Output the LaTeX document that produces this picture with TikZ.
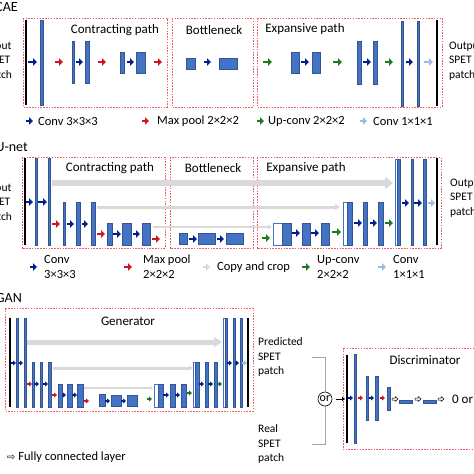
\documentclass[tikz,border=0pt]{standalone}
\usepackage{fontspec}
\setmainfont{Carlito}
\newfontfamily\symfont{DejaVu Sans}
\usetikzlibrary{arrows.meta}
\usetikzlibrary{positioning}
\definecolor{layblue}{RGB}{68,114,196}
\definecolor{convblue}{RGB}{0,30,140}
\definecolor{poolred}{RGB}{205,20,35}
\definecolor{upgreen}{RGB}{30,120,30}
\definecolor{finblue}{RGB}{155,187,227}
\definecolor{copygray}{RGB}{217,217,217}
\definecolor{boxred}{RGB}{240,90,100}
\tikzset{lay/.style = {fill=layblue, draw=layblue!75!black, line width=0.3pt}}
\tikzset{hollow/.style = {fill=white, draw=layblue, line width=0.6pt}}
\tikzset{patchline/.style = {draw=black, line width=1.6pt}}
\tikzset{part/.style = {draw=boxred, dash pattern=on 1.5pt off 1.3pt, line width=0.9pt}}
\tikzset{bigtip/.style = {line width=2.6pt, -{Triangle[length=4pt,width=7.5pt]}}}
\tikzset{smalltip/.style = {line width=1.6pt, -{Triangle[length=3pt,width=5pt]}}}
\tikzset{conv/.style = {draw=convblue}, pool/.style = {draw=poolred}}
\tikzset{upc/.style = {draw=upgreen}, fin/.style = {draw=finblue}}
\tikzset{copy/.style = {draw=copygray, -{Triangle[length=8pt,width=12pt]}}}
\tikzset{fcarrow/.style = {draw=black, fill=white, line width=0.5pt}}
\tikzset{title/.style = {font=\fontsize{14}{16}\selectfont, inner sep=0pt}}
\tikzset{head/.style = {font=\fontsize{13}{15}\selectfont, inner sep=0pt}}
\tikzset{lbl/.style = {font=\fontsize{11.5}{14.5}\selectfont, align=left, inner sep=0pt}}
\tikzset{leg/.style = {font=\fontsize{12.5}{15}\selectfont, align=left, anchor=west, inner sep=0pt}}
\begin{document}
\begin{tikzpicture}[x=1pt, y=-1pt]
  \useasboundingbox (0,0) rectangle (474,474);
  % 3D CAE
  \node [title, anchor=east] (caetitle) at (18,7) {3D CAE};
  \draw [part] (23,18) rectangle (167,107);
  \draw [part] (172,18) rectangle (253,107);
  \draw [part] (257,18) rectangle (442,107);
  \node [head] (caecon) at (115,30) {Contracting path};
  \node [head] (caebot) at (214,30) {Bottleneck};
  \node [head] (caeexp) at (305,29) {Expansive path};
  \node [lbl, align=center] (caein) at (-1,61) {Input\\SPET\\patch};
  \node [lbl, anchor=west] (caeout) at (449,61) {Output\\SPET\\patch};
  \draw [patchline] (26,20) -- (26,105);
  \draw [patchline] (437,20) -- (437,106);
  \draw [lay] (40,20) rectangle (43,105);
  \draw [lay] (72,41) rectangle (74,83);
  \draw [lay] (85,41) rectangle (89,83);
  \draw [lay] (120,52) rectangle (124,73);
  \draw [lay] (136,52) rectangle (145,73);
  \draw [lay] (186,58) rectangle (195,69);
  \draw [lay] (219,58) rectangle (237,69);
  \draw [lay] (291,52) rectangle (299,73);
  \draw [lay] (312,52) rectangle (320,73);
  \draw [lay] (357,41) rectangle (361,84);
  \draw [lay] (373,41) rectangle (377,84);
  \draw [lay] (401,21) rectangle (403,106);
  \draw [lay] (417,21) rectangle (419,106);
  \foreach \a/\b in {28/37, 76/83, 127/134, 204/211, 301/309, 363/371, 406/413}
    \draw [conv, bigtip] (\a,62) -- (\b,62);
  \foreach \a/\b in {55/63, 98/106, 154/162}
    \draw [pool, bigtip] (\a,62) -- (\b,62);
  \foreach \a/\b in {263/272, 333/342, 385/393}
    \draw [upc, bigtip] (\a,62) -- (\b,62);
  \draw [fin, bigtip] (424,62) -- (433,62);
  % CAE legend
  \draw [conv, bigtip] (26,121) -- (33,121);
  \node [leg] (caeconv) at (38,121) {Conv 3×3×3};
  \draw [pool, bigtip] (142,121) -- (149,121);
  \node [leg] (caepool) at (157,121) {Max pool 2×2×2};
  \draw [upc, bigtip] (257,121) -- (264,121);
  \node [leg] (caeup) at (268,121) {Up-conv 2×2×2};
  \draw [fin, bigtip] (360,121) -- (367,121);
  \node [leg] (caefin) at (373,121) {Conv 1×1×1};

  % 3D U-net
  \node [title, anchor=east] (unettitle) at (28,147) {3D U-net};
  \draw [part] (22,157) rectangle (165,248);
  \draw [part] (170,157) rectangle (253,248);
  \draw [part] (257,157) rectangle (441,248);
  \draw [copy, line width=6pt] (52,183) -- (393,183);
  \draw [copy, line width=3pt, -{Triangle[length=5pt,width=6pt]}] (97,207) -- (340,207);
  \draw [copy, line width=2pt, -{Triangle[length=4pt,width=4pt]}] (153,227) -- (272,227);
  \node [head] (unetcon) at (110,168) {Contracting path};
  \node [head] (unetbot) at (213,168) {Bottleneck};
  \node [head] (unetexp) at (306,168) {Expansive path};
  \node [lbl, align=center] (unetin) at (-1,203) {Input\\SPET\\patch};
  \node [lbl, anchor=west] (unetout) at (450,198) {Output\\SPET\\patch};
  \draw [patchline] (25,158) -- (25,245);
  \draw [patchline] (437,158) -- (437,245);
  \draw [lay] (35,158) rectangle (37,245);
  \draw [lay] (48,158) rectangle (50,245);
  \draw [lay] (63,202) rectangle (65,245);
  \draw [lay] (76,202) rectangle (80,245);
  \draw [lay] (91,202) rectangle (95,245);
  \draw [lay] (107,223) rectangle (112,245);
  \draw [lay] (122,223) rectangle (131,245);
  \draw [lay] (142,223) rectangle (150,245);
  \draw [lay] (179,233) rectangle (187,244);
  \draw [lay] (198,233) rectangle (215,244);
  \draw [lay] (226,233) rectangle (243,244);
  \draw [hollow] (273,223) rectangle (282,245);
  \draw [lay] (282,223) rectangle (291,245);
  \draw [lay] (302,223) rectangle (310,245);
  \draw [lay] (321,223) rectangle (329,245);
  \draw [hollow] (343,202) rectangle (347,245);
  \draw [lay] (347,202) rectangle (352,245);
  \draw [lay] (363,202) rectangle (367,245);
  \draw [lay] (378,202) rectangle (383,245);
  \draw [hollow] (395,159) rectangle (397,245);
  \draw [lay] (397,159) rectangle (400,245);
  \draw [lay] (411,159) rectangle (413,245);
  \draw [lay] (423,159) rectangle (426,245);
  \foreach \a/\b/\y in {26/33/202, 38/47/202, 67/74/224, 82/88/224, 113/121/234, 133/140/234,
      189/197/239, 217/224/239, 292/300/233, 311/319/233, 354/362/223, 370/377/223,
      402/409/203, 414/422/203}
    \draw [conv, bigtip] (\a,\y) -- (\b,\y);
  \foreach \a/\b/\y in {52/60/224, 97/105/234, 152/160/239}
    \draw [pool, bigtip] (\a,\y) -- (\b,\y);
  \foreach \a/\b/\y in {262/270/238, 332/341/232, 385/393/223}
    \draw [upc, bigtip] (\a,\y) -- (\b,\y);
  \draw [fin, bigtip] (428,203) -- (435,203);
  % U-net legend
  \draw [conv, bigtip] (30,267) -- (37,267);
  \node [leg] (unetconv) at (44,267) {Conv\\3×3×3};
  \draw [pool, bigtip] (124,267) -- (132,267);
  \node [leg] (unetpool) at (143,267) {Max pool\\2×2×2};
  \draw [draw=copygray, bigtip] (203,267) -- (210,267);
  \node [leg] (unetcopy) at (217,267) {Copy and crop};
  \draw [upc, bigtip] (302,267) -- (310,267);
  \node [leg] (unetup) at (317,267) {Up-conv\\2×2×2};
  \draw [fin, bigtip] (378,267) -- (386,267);
  \node [leg] (unetfin) at (393,267) {Conv\\1×1×1};

  % 3D cGAN
  \node [title, anchor=east] (gantitle) at (22,298) {3D cGAN};
  \draw [part] (5,308) rectangle (253,411);
  \draw [copy, line width=5pt, -{Triangle[length=8pt,width=10pt]}] (27,342) -- (222,342);
  \draw [copy, line width=3pt, -{Triangle[length=4pt,width=5pt]}] (53,368) -- (193,368);
  \draw [copy, line width=2pt, -{Triangle[length=3pt,width=4pt]}] (83,388) -- (153,388);
  \node [head] (gen) at (128,321) {Generator};
  \draw [patchline] (10,318) -- (10,407);
  \draw [patchline] (248,318) -- (248,407);
  \draw [lay] (16,318) rectangle (18,407);
  \draw [lay] (24,318) rectangle (26,407);
  \draw [lay] (32,362) rectangle (34,407);
  \draw [lay] (40,362) rectangle (42,407);
  \draw [lay] (48,362) rectangle (51,407);
  \draw [lay] (58,384) rectangle (62,407);
  \draw [lay] (67,384) rectangle (72,407);
  \draw [lay] (77,384) rectangle (83,407);
  \draw [lay] (99,394) rectangle (105,406);
  \draw [lay] (111,395) rectangle (121,406);
  \draw [lay] (127,395) rectangle (137,406);
  \draw [hollow] (154,384) rectangle (158,407);
  \draw [lay] (158,384) rectangle (163,407);
  \draw [lay] (170,384) rectangle (175,407);
  \draw [lay] (181,384) rectangle (186,407);
  \draw [hollow] (193,362) rectangle (195,407);
  \draw [lay] (195,362) rectangle (199,407);
  \draw [lay] (205,362) rectangle (208,407);
  \draw [lay] (214,362) rectangle (217,407);
  \draw [hollow] (223,318) rectangle (225,407);
  \draw [lay] (225,318) rectangle (227,407);
  \draw [lay] (233,318) rectangle (235,407);
  \draw [lay] (240,318) rectangle (242,407);
  \foreach \a/\b/\y in {11/16/363, 19/23/363, 34/39/384, 43/48/384, 62/66/395, 72/77/395,
      105/110/401, 121/126/401, 163/169/395, 175/180/395, 199/204/384, 208/213/384,
      227/232/363, 235/239/363}
    \draw [conv, smalltip] (\a,\y) -- (\b,\y);
  \foreach \a/\b/\y in {27/32/384, 52/57/395, 84/89/401}
    \draw [pool, smalltip] (\a,\y) -- (\b,\y);
  \foreach \a/\b/\y in {147/152/399, 187/192/393, 218/222/384}
    \draw [upc, smalltip] (\a,\y) -- (\b,\y);
  \draw [fin, smalltip] (242,363) -- (247,363);
  \node [lbl, anchor=west] (pred) at (258,357) {Predicted\\SPET\\patch};
  \node [lbl, anchor=west] (real) at (258,444) {Real\\SPET\\patch};
  \draw [gray!70, line width=0.8pt] (312,357) -- (325,357) -- (325,444) -- (312,444);
  \node [draw, circle, fill=white, line width=0.6pt, minimum size=14pt, inner sep=0pt,
    font=\fontsize{12}{14}\selectfont] (or) at (325,399) {or};
  % discriminator
  \draw [part] (343,348) rectangle (484,449);
  \node [head] (disc) at (425,360) {Discriminator};
  \draw [patchline] (347,355) -- (347,443);
  \coordinate (dinput) at (347,399);
  \draw [-{Triangle[length=3pt,width=4pt]}, line width=0.8pt, shorten <=4pt, shorten >=2pt] (or) -- (dinput);
  \draw [lay] (354,354) rectangle (356,443);
  \draw [lay] (366,376) rectangle (368,420);
  \draw [lay] (375,376) rectangle (378,420);
  \draw [lay] (387,387) rectangle (390,410);
  \draw [lay] (399,400) rectangle (412,403);
  \draw [lay] (423,400) rectangle (436,403);
  \foreach \a/\b in {348/353, 369/374}
    \draw [conv, smalltip] (\a,398) -- (\b,398);
  \foreach \a/\b in {358/363, 380/385}
    \draw [pool, smalltip] (\a,398) -- (\b,398);
  \foreach \x in {392,415,438}
    \draw [fcarrow] (\x,400) -- ++(3,0) -- ++(0,1.5) -- ++(3,-2.5) -- ++(-3,-2.5) -- ++(0,1.5) -- ++(-3,0) -- cycle;
  \node [head, anchor=west] (outval) at (452,399) {0 or 1};
  \node [leg] (fclegend) at (7,457) {{\symfont\fontsize{10}{12}\selectfont ⇨} Fully connected layer};
\end{tikzpicture}
\end{document}
